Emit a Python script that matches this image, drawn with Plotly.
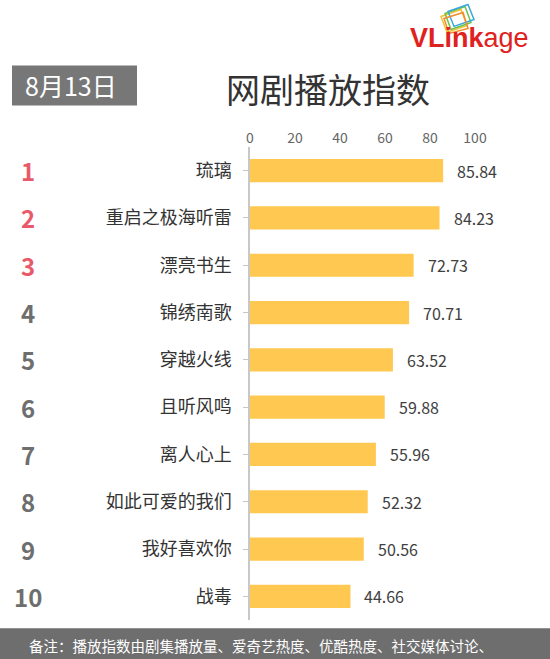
import plotly.graph_objects as go

titles = ["琉璃", "重启之极海听雷", "漂亮书生", "锦绣南歌", "穿越火线", "且听风鸣", "离人心上", "如此可爱的我们", "我好喜欢你", "战毒"]
values = [85.84, 84.23, 72.73, 70.71, 63.52, 59.88, 55.96, 52.32, 50.56, 44.66]
ranks = ["1", "2", "3", "4", "5", "6", "7", "8", "9", "10"]
tick_vals = [0, 20, 40, 60, 80, 100]

W, H = 550, 659
L, R = 250, 475
T, B = 146.6, 619.7
FONT = "Noto Sans CJK SC"

def px(x):
    return (x - L) / (R - L)

def py(y):
    return (B - y) / (B - T)

fig = go.Figure()
fig.add_trace(go.Bar(
    x=values, y=titles, orientation="h",
    marker=dict(color="#FFC850", line=dict(width=0)),
    width=0.49,
))

annotations = []
for i, (r, t, v) in enumerate(zip(ranks, titles, values)):
    annotations.append(dict(
        x=px(28), xref="paper", y=t, yref="y", text=f"<b>{r}</b>", showarrow=False,
        xanchor="center", font=dict(size=24, color="#E85A6A" if i < 3 else "#6E6E6E", family=FONT)))
    annotations.append(dict(
        x=v, xref="x", y=t, yref="y", text=f"{v:.2f}", showarrow=False,
        xanchor="left", xshift=12, font=dict(size=16, color="#404040", family=FONT)))

annotations += [
    dict(x=px(71), y=py(85), xref="paper", yref="paper", text="8月13日", showarrow=False,
         font=dict(size=25, color="#FFFFFF", family=FONT), xanchor="center", yanchor="middle"),
    dict(x=px(328), y=py(88), xref="paper", yref="paper", text="网剧播放指数", showarrow=False,
         font=dict(size=34, color="#333333", family=FONT), xanchor="center", yanchor="middle"),
    dict(x=px(469), y=py(38), xref="paper", yref="paper", text="<b>VLink</b>age", showarrow=False,
         font=dict(size=27, color="#E0221E", family="Liberation Sans"), xanchor="center", yanchor="middle"),
    dict(x=px(261), y=py(645), xref="paper", yref="paper", text="备注：播放指数由剧集播放量、爱奇艺热度、优酷热度、社交媒体讨论、",
         showarrow=False, font=dict(size=14.5, color="#FFFFFF", family=FONT), xanchor="center", yanchor="middle"),
]

def rect(x0, y0, x1, y1, **kw):
    return dict(type="rect", xref="paper", yref="paper", x0=px(x0), x1=px(x1), y0=py(y1), y1=py(y0), **kw)

def poly(pts, color):
    d = "M " + " L ".join(f"{px(a)},{py(b)}" for a, b in pts) + " Z"
    return dict(type="path", xref="paper", yref="paper", path=d, line=dict(color=color, width=1.5))

shapes = [
    rect(12, 65, 137, 105, fillcolor="#777777", line=dict(width=0), layer="below"),
    rect(0, 628, 550, 659, fillcolor="#6E6E6E", line=dict(width=0), layer="below"),
    poly([(441, 16), (461, 9), (467, 25), (447, 32)], "#F2C230"),
    poly([(445, 13), (465, 6), (471, 22), (451, 29)], "#6CC24A"),
    poly([(448, 11), (468, 4), (474, 19), (454, 26)], "#3AA7E0"),
    poly([(444, 18), (463, 12), (468, 28), (449, 33)], "#F08A2C"),
]

fig.update_layout(
    width=W, height=H, margin=dict(l=L, r=W - R, t=T, b=H - B, pad=0),
    paper_bgcolor="white", plot_bgcolor="white", showlegend=False,
    font=dict(family=FONT, color="#333333"),
    annotations=annotations, shapes=shapes,
    xaxis=dict(range=[0, 100], side="top", tickvals=tick_vals, showgrid=False, zeroline=False,
               showline=False, ticks="", tickfont=dict(size=14, color="#666666", family=FONT)),
    yaxis=dict(autorange="reversed", showline=True, linecolor="#C8C8C8", linewidth=1.5,
               ticks="outside", ticklen=5, tickcolor="#C8C8C8", showgrid=False,
               tickfont=dict(size=18, color="#333333", family=FONT), ticklabelstandoff=8),
)

fig.write_html("out.html")
